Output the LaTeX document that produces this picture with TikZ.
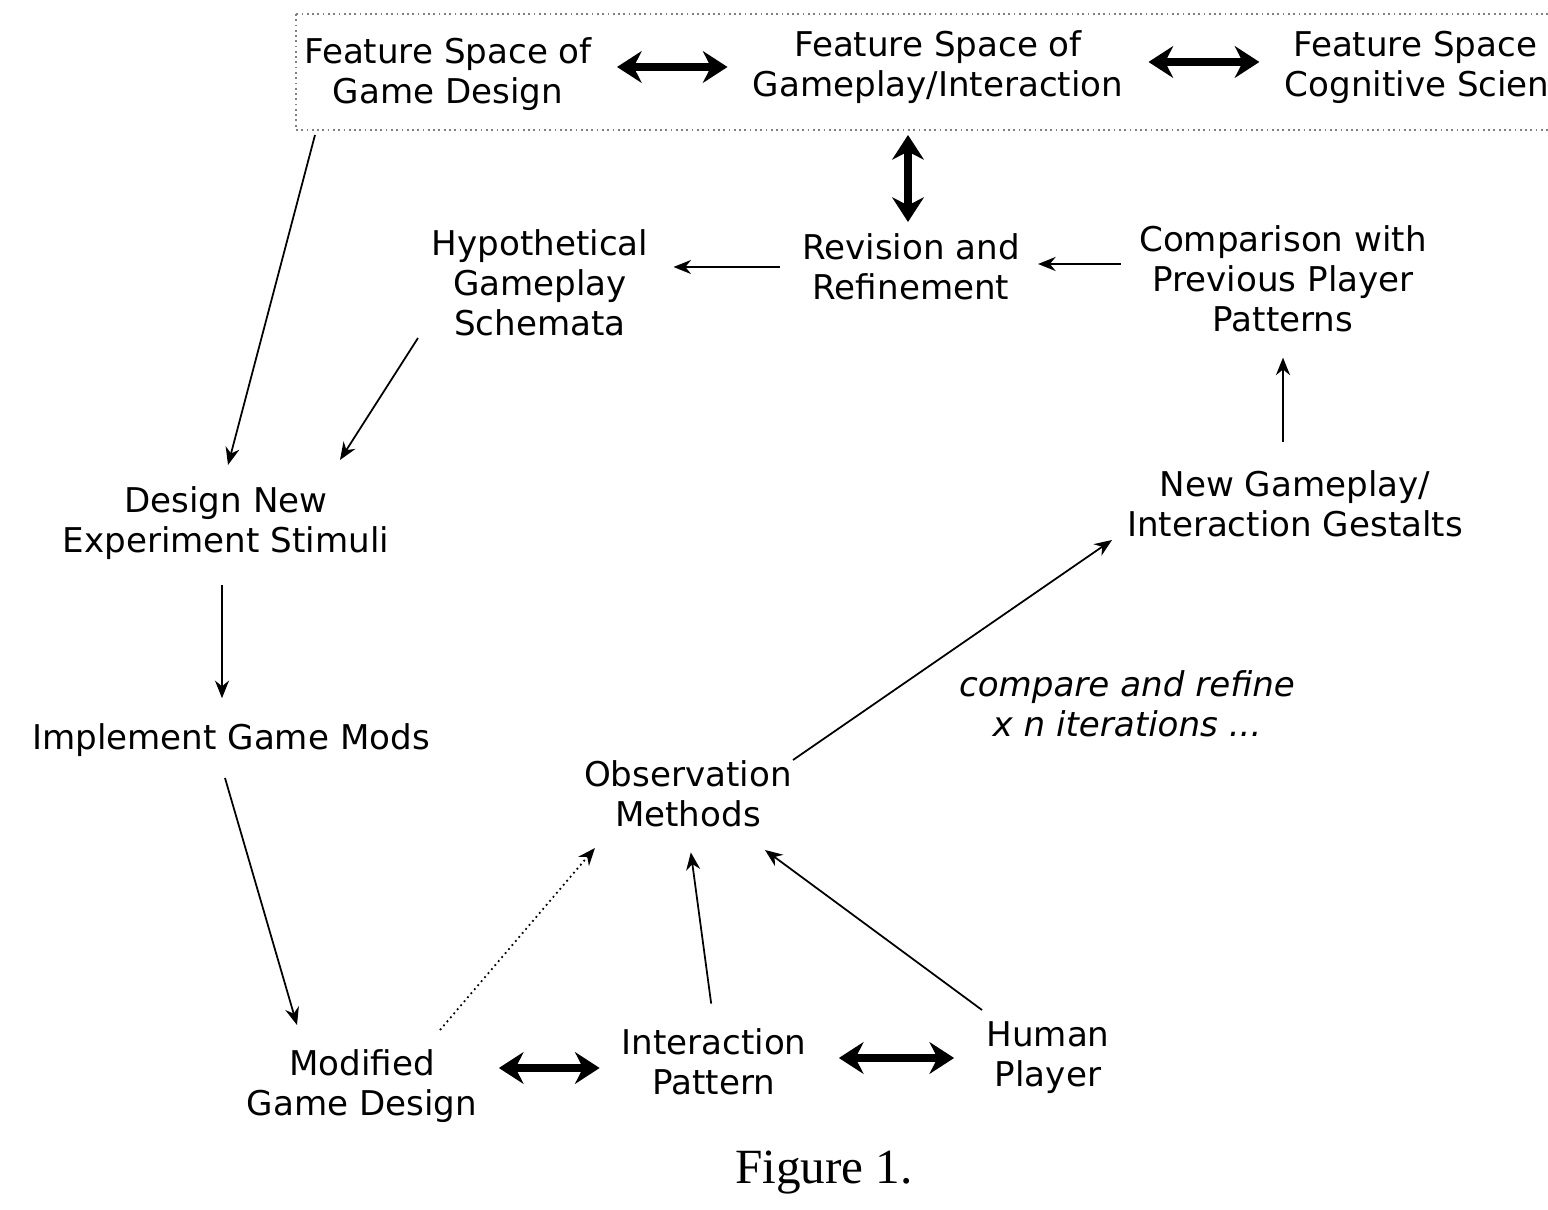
\documentclass[tikz,border=0pt]{standalone}
\usepackage{fontspec}
\setmainfont{DejaVu Sans}
\newfontfamily\capfont{Liberation Serif}
\usetikzlibrary{arrows.meta,positioning,fit}

\tikzset{
  box/.style={align=center, font=\fontsize{9.7}{11.4}\selectfont, inner sep=1pt},
  thin arrow/.style={-{Stealth[length=5pt,width=4pt]}, line width=0.5pt},
  thick arrow/.style={{Stealth[length=7pt,width=9pt]}-{Stealth[length=7pt,width=9pt]}, line width=2.2pt},
}

\begin{document}
\begin{tikzpicture}[x=0.01cm,y=-0.01cm]
    \useasboundingbox (0,0) rectangle (1548,1210);
    \clip (0,0) rectangle (1548,1210);

    % top row
    \node[box] (fsgd) at (448,74) {Feature Space of\\Game Design};
    \node[box] (fsgi) at (938,67) {Feature Space of\\Gameplay/Interaction};
    \node[box] (fscs) at (1437,67) {Feature Space of\\Cognitive Science};
    \draw[densely dotted, line width=0.5pt, gray] (296,14) rectangle (1600,130);
    \coordinate (gdfoot) at (315,135);

    % middle
    \node[box] (hyp) at (540,283) {Hypothetical\\Gameplay\\Schemata};
    \node[box] (rev) at (911,267) {Revision and\\Refinement};
    \node[box] (comp) at (1283,279) {Comparison with\\Previous Player\\Patterns};
    \node[box] (design) at (226,523) {Design New\\Experiment Stimuli};
    \node[box] (newg) at (1295,504) {New Gameplay/\\Interaction Gestalts};
    \node[box] (impl) at (231,740) {Implement Game Mods};
    \node[box] (obs) at (688,794) {Observation\\Methods};
    \node[box, font=\fontsize{9.7}{11.4}\selectfont\itshape] (note) at (1127,704) {compare and refine\\x n iterations ...};

    % bottom
    \node[box] (mod) at (362,1086) {Modified\\Game Design};
    \node[box] (inter) at (714,1062) {Interaction\\Pattern};
    \node[box] (human) at (1048,1058) {Human\\Player};

    \node[font=\capfont\fontsize{14}{16}\selectfont] (cap) at (824,1173) {Figure 1.};

    % free ends of slanted connectors
    \coordinate (hypfoot) at (418,338);
    \coordinate (designtop) at (340,460);
    \coordinate (implfoot) at (225,778);
    \coordinate (modtop) at (297,1025);
    \coordinate (modtip) at (440,1030);
    \coordinate (obsleft) at (595,848);
    \coordinate (obstip) at (793,760);
    \coordinate (newgfoot) at (1112,540);
    \coordinate (humantip) at (982,1010);
    \coordinate (obsright) at (765,850);

    % connectors
    \draw[thick arrow, shorten <=6pt, shorten >=6pt] (fsgd.east |- 0,67) -- (fsgi.west |- 0,67);
    \draw[thick arrow, shorten <=6pt, shorten >=6pt] (fsgi.east |- 0,62) -- (fscs.west |- 0,62);
    \draw[thick arrow] (908,135) -- (908,222);
    \draw[thin arrow] (gdfoot) -- (228,465);
    \draw[thin arrow, shorten <=5pt, shorten >=6pt] (rev.west |- 0,267) -- (hyp.east |- 0,267);
    \draw[thin arrow, shorten <=4pt, shorten >=4pt] (comp.west |- 0,264) -- (rev.east |- 0,264);
    \draw[thin arrow] (hypfoot) -- (designtop);
    \draw[thin arrow, shorten <=6pt, shorten >=6pt] (design.south -| 222,0) -- (impl.north -| 222,0);
    \draw[thin arrow] (implfoot) -- (modtop);
    \draw[thin arrow, shorten <=7pt, shorten >=6pt] (newg.north -| 1283,0) -- (comp.south);
    \draw[thin arrow] (obstip) -- (newgfoot);
    \draw[thin arrow, densely dotted] (modtip) -- (obsleft);
    \draw[thin arrow, shorten <=6pt, shorten >=6pt] (inter.north) -- (obs.south);
    \draw[thin arrow] (humantip) -- (obsright);
    \draw[thick arrow, shorten <=5pt, shorten >=5pt] (mod.east |- 0,1068) -- (inter.west |- 0,1068);
    \draw[thick arrow, shorten <=8pt, shorten >=8pt] (inter.east |- 0,1058) -- (human.west |- 0,1058);
\end{tikzpicture}
\end{document}
